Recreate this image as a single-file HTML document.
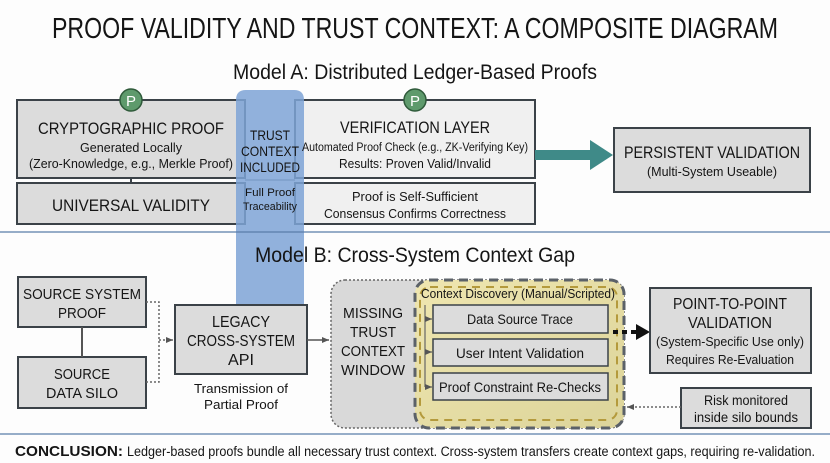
<!DOCTYPE html>
<html><head><meta charset="utf-8"><style>
html,body{margin:0;padding:0;background:#fff}
svg{display:block}
text{font-family:"Liberation Sans",sans-serif;fill:#151515}
</style></head><body>
<svg width="830" height="463" viewBox="0 0 830 463" xmlns="http://www.w3.org/2000/svg">
<defs>
<linearGradient id="yg" x1="0" y1="0" x2="1" y2="1"><stop offset="0" stop-color="#efe6b0"/><stop offset="1" stop-color="#dcd49a"/></linearGradient>
<marker id="ah" markerWidth="8" markerHeight="8" refX="7" refY="4" orient="auto" markerUnits="userSpaceOnUse"><path d="M0,1 L7,4 L0,7z" fill="#555"/></marker>
</defs>
<rect width="830" height="463" fill="#fdfdfd"/>
<text x="415" y="38" text-anchor="middle" font-size="29" textLength="726" lengthAdjust="spacingAndGlyphs">PROOF VALIDITY AND TRUST CONTEXT: A COMPOSITE DIAGRAM</text>
<text x="415" y="79" text-anchor="middle" font-size="21" textLength="364" lengthAdjust="spacingAndGlyphs">Model A: Distributed Ledger-Based Proofs</text>

<!-- Model A boxes -->
<rect x="17" y="100" width="228" height="78" fill="#dcdcdc" stroke="#3b4248" stroke-width="2"/>
<rect x="17" y="183" width="228" height="41" fill="#dcdcdc" stroke="#3b4248" stroke-width="2"/>
<rect x="295" y="100" width="240" height="78" fill="#f0f0f0" stroke="#3b4248" stroke-width="2"/>
<rect x="295" y="183" width="240" height="41" fill="#f0f0f0" stroke="#3b4248" stroke-width="2"/>
<line x1="131" y1="178" x2="131" y2="183" stroke="#3b4248" stroke-width="2"/>
<line x1="245" y1="180" x2="295" y2="180" stroke="#3b4248" stroke-width="1"/>
<!-- blue band -->
<path d="M236,100 Q236,90 246,90 L294,90 Q304,90 304,100 L304,305 L236,305 Z" fill="#7ea3d6" opacity="0.85"/>
<circle cx="131" cy="100" r="11" fill="#5e9a6c" stroke="#2f5a3a" stroke-width="1.5"/>
<text x="131" y="106" text-anchor="middle" font-size="15" fill="#fff" style="fill:#fff">P</text>
<circle cx="415" cy="100" r="11" fill="#5e9a6c" stroke="#2f5a3a" stroke-width="1.5"/>
<text x="415" y="106" text-anchor="middle" font-size="15" style="fill:#fff">P</text>

<text x="131" y="134" text-anchor="middle" font-size="17" textLength="186" lengthAdjust="spacingAndGlyphs">CRYPTOGRAPHIC PROOF</text>
<text x="131" y="152" text-anchor="middle" font-size="13" textLength="102" lengthAdjust="spacingAndGlyphs">Generated Locally</text>
<text x="131" y="168" text-anchor="middle" font-size="13" textLength="204" lengthAdjust="spacingAndGlyphs">(Zero-Knowledge, e.g., Merkle Proof)</text>
<text x="131" y="211" text-anchor="middle" font-size="17" textLength="158" lengthAdjust="spacingAndGlyphs">UNIVERSAL VALIDITY</text>

<text x="270" y="140" text-anchor="middle" font-size="14" textLength="40" lengthAdjust="spacingAndGlyphs">TRUST</text>
<text x="270" y="156" text-anchor="middle" font-size="14" textLength="58" lengthAdjust="spacingAndGlyphs">CONTEXT</text>
<text x="270" y="172" text-anchor="middle" font-size="14" textLength="60" lengthAdjust="spacingAndGlyphs">INCLUDED</text>
<text x="270" y="196" text-anchor="middle" font-size="11" textLength="50" lengthAdjust="spacingAndGlyphs">Full Proof</text>
<text x="270" y="210" text-anchor="middle" font-size="11" textLength="54" lengthAdjust="spacingAndGlyphs">Traceability</text>

<text x="415" y="133" text-anchor="middle" font-size="17" textLength="150" lengthAdjust="spacingAndGlyphs">VERIFICATION LAYER</text>
<text x="415" y="151" text-anchor="middle" font-size="11.5" textLength="226" lengthAdjust="spacingAndGlyphs">Automated Proof Check (e.g., ZK-Verifying Key)</text>
<text x="415" y="168" text-anchor="middle" font-size="13" textLength="152" lengthAdjust="spacingAndGlyphs">Results: Proven Valid/Invalid</text>
<text x="415" y="201" text-anchor="middle" font-size="13" textLength="126" lengthAdjust="spacingAndGlyphs">Proof is Self-Sufficient</text>
<text x="415" y="218" text-anchor="middle" font-size="13" textLength="182" lengthAdjust="spacingAndGlyphs">Consensus Confirms Correctness</text>

<!-- teal arrow -->
<rect x="535" y="150" width="56" height="10" fill="#3f8a88"/>
<path d="M590,140 L613,155 L590,170 Z" fill="#3f8a88"/>
<rect x="614" y="128" width="196" height="64" fill="#dcdcdc" stroke="#3b4248" stroke-width="2"/>
<text x="712" y="158" text-anchor="middle" font-size="17" textLength="176" lengthAdjust="spacingAndGlyphs">PERSISTENT VALIDATION</text>
<text x="712" y="176" text-anchor="middle" font-size="13" textLength="130" lengthAdjust="spacingAndGlyphs">(Multi-System Useable)</text>

<line x1="0" y1="232" x2="830" y2="232" stroke="#5a7ea8" stroke-width="1.2"/>
<text x="415" y="262" text-anchor="middle" font-size="21" textLength="320" lengthAdjust="spacingAndGlyphs">Model B: Cross-System Context Gap</text>

<!-- Model B left -->
<rect x="18" y="277" width="128" height="50" fill="#dcdcdc" stroke="#3b4248" stroke-width="2"/>
<rect x="18" y="357" width="128" height="51" fill="#dcdcdc" stroke="#3b4248" stroke-width="2"/>
<line x1="82" y1="327" x2="82" y2="357" stroke="#555" stroke-width="2"/>
<text x="82" y="299" text-anchor="middle" font-size="15" textLength="118" lengthAdjust="spacingAndGlyphs">SOURCE SYSTEM</text>
<text x="82" y="318" text-anchor="middle" font-size="15" textLength="48" lengthAdjust="spacingAndGlyphs">PROOF</text>
<text x="82" y="379" text-anchor="middle" font-size="15" textLength="56" lengthAdjust="spacingAndGlyphs">SOURCE</text>
<text x="82" y="398" text-anchor="middle" font-size="15" textLength="72" lengthAdjust="spacingAndGlyphs">DATA SILO</text>
<path d="M146,302 L159,302 L159,382 L146,382 M159,340 L173,340" fill="none" stroke="#666" stroke-width="1.5" stroke-dasharray="2,2" marker-end="url(#ah)"/>

<rect x="175" y="305" width="132" height="69" fill="#dcdcdc" stroke="#3b4248" stroke-width="2"/>
<text x="241" y="327" text-anchor="middle" font-size="16" textLength="58" lengthAdjust="spacingAndGlyphs">LEGACY</text>
<text x="241" y="346" text-anchor="middle" font-size="16" textLength="108" lengthAdjust="spacingAndGlyphs">CROSS-SYSTEM</text>
<text x="241" y="365" text-anchor="middle" font-size="16" textLength="26" lengthAdjust="spacingAndGlyphs">API</text>
<text x="241" y="393" text-anchor="middle" font-size="13" textLength="94" lengthAdjust="spacingAndGlyphs">Transmission of</text>
<text x="241" y="409" text-anchor="middle" font-size="13" textLength="74" lengthAdjust="spacingAndGlyphs">Partial Proof</text>
<line x1="307" y1="340" x2="329" y2="340" stroke="#555" stroke-width="1.5" marker-end="url(#ah)"/>

<!-- missing window -->
<rect x="331" y="280" width="293" height="148" rx="14" fill="#d9d9d9" stroke="#666" stroke-width="1.5" stroke-dasharray="2,2"/>
<text x="373" y="318" text-anchor="middle" font-size="15" textLength="60" lengthAdjust="spacingAndGlyphs">MISSING</text>
<text x="373" y="337" text-anchor="middle" font-size="15" textLength="46" lengthAdjust="spacingAndGlyphs">TRUST</text>
<text x="373" y="356" text-anchor="middle" font-size="15" textLength="64" lengthAdjust="spacingAndGlyphs">CONTEXT</text>
<text x="373" y="375" text-anchor="middle" font-size="15" textLength="64" lengthAdjust="spacingAndGlyphs">WINDOW</text>
<rect x="415" y="280" width="209" height="148" rx="14" fill="url(#yg)" stroke="#5b6168" stroke-width="3" stroke-dasharray="9,6"/>
<rect x="420" y="287" width="197" height="133" rx="10" fill="none" stroke="#b49a3c" stroke-width="2" stroke-dasharray="8,6"/>
<text x="518" y="298" text-anchor="middle" font-size="12.5" textLength="194" lengthAdjust="spacingAndGlyphs">Context Discovery (Manual/Scripted)</text>
<path d="M425,305 L425,387" stroke="#666" stroke-width="1.2" fill="none"/>
<line x1="425" y1="319" x2="432" y2="319" stroke="#666" stroke-width="1.2" marker-end="url(#ah)"/>
<line x1="425" y1="352" x2="432" y2="352" stroke="#666" stroke-width="1.2" marker-end="url(#ah)"/>
<line x1="425" y1="387" x2="432" y2="387" stroke="#666" stroke-width="1.2" marker-end="url(#ah)"/>
<rect x="433" y="305" width="175" height="28" fill="#dcdcdc" stroke="#3b4248" stroke-width="1.5"/>
<rect x="433" y="339" width="175" height="27" fill="#dcdcdc" stroke="#3b4248" stroke-width="1.5"/>
<rect x="433" y="373" width="175" height="27" fill="#dcdcdc" stroke="#3b4248" stroke-width="1.5"/>
<text x="520" y="324" text-anchor="middle" font-size="14" textLength="106" lengthAdjust="spacingAndGlyphs">Data Source Trace</text>
<text x="520" y="358" text-anchor="middle" font-size="14" textLength="128" lengthAdjust="spacingAndGlyphs">User Intent Validation</text>
<text x="520" y="392" text-anchor="middle" font-size="14" textLength="162" lengthAdjust="spacingAndGlyphs">Proof Constraint Re-Checks</text>

<line x1="613" y1="332" x2="638" y2="332" stroke="#111" stroke-width="4" stroke-dasharray="5,4"/>
<path d="M636,324 L650,332 L636,340 Z" fill="#111"/>
<rect x="650" y="288" width="161" height="85" fill="#dcdcdc" stroke="#3b4248" stroke-width="2"/>
<text x="730" y="309" text-anchor="middle" font-size="16" textLength="114" lengthAdjust="spacingAndGlyphs">POINT-TO-POINT</text>
<text x="730" y="328" text-anchor="middle" font-size="16" textLength="84" lengthAdjust="spacingAndGlyphs">VALIDATION</text>
<text x="730" y="346" text-anchor="middle" font-size="13" textLength="148" lengthAdjust="spacingAndGlyphs">(System-Specific Use only)</text>
<text x="730" y="364" text-anchor="middle" font-size="13" textLength="128" lengthAdjust="spacingAndGlyphs">Requires Re-Evaluation</text>

<rect x="681" y="388" width="130" height="40" fill="#dcdcdc" stroke="#3b4248" stroke-width="2"/>
<text x="746" y="405" text-anchor="middle" font-size="14" textLength="84" lengthAdjust="spacingAndGlyphs">Risk monitored</text>
<text x="746" y="422" text-anchor="middle" font-size="14" textLength="104" lengthAdjust="spacingAndGlyphs">inside silo bounds</text>
<line x1="681" y1="407" x2="627" y2="407" stroke="#666" stroke-width="1.5" stroke-dasharray="2,2" marker-end="url(#ah)"/>

<line x1="0" y1="434" x2="830" y2="434" stroke="#5a7ea8" stroke-width="1.2"/>
<text x="15" y="456" font-size="15" textLength="108" lengthAdjust="spacingAndGlyphs" font-weight="bold">CONCLUSION:</text>
<text x="127" y="456" font-size="13.5" textLength="688" lengthAdjust="spacingAndGlyphs">Ledger-based proofs bundle all necessary trust context. Cross-system transfers create context gaps, requiring re-validation.</text>
</svg>
</body></html>
